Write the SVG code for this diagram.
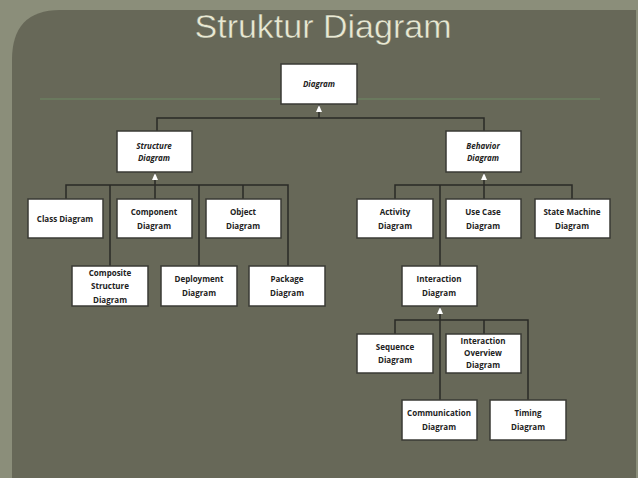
<svg xmlns="http://www.w3.org/2000/svg" width="638" height="478" viewBox="0 0 638 478">
<style>
.b{fill:#fff;stroke:#3a3a34;stroke-width:1.5}
.t{font-family:"Open Sans",sans-serif;font-size:8px;font-weight:bold;fill:#222;text-anchor:middle}
.i{font-style:italic}
#conn path{fill:none;stroke:#2a2a26;stroke-width:1.5}
</style>
<rect width="638" height="478" fill="#8b8e7a"/>
<path d="M60,10 H636 V478 H12 V60 Q12,10 60,10 Z" fill="#676858"/>
<text x="323" y="38" font-family="Liberation Sans,sans-serif" font-size="34" fill="#e8e8d2" text-anchor="middle" stroke="#55574a" stroke-width="0.4">Struktur Diagram</text>
<line x1="40" y1="99" x2="600" y2="99" stroke="#6f8a64" stroke-width="1.2"/>
<g id="conn">
<path d="M319,104 V118 M157,131 V118 H484 V131" />
<path d="M155,172 V185 M66,199 V185 H288 V266 M110,185 V266 M155,185 V199 M199,185 V266 M243,185 V199"/>
<path d="M484,172 V185 M395,199 V185 H572 V199 M440,185 V266 M484,185 V199"/>
<path d="M440,306 V320 M395,334 V320 H528 V400 M440,320 V400 M484,320 V334"/>
</g>
<g fill="#fff"><path d="M316,112 L319,105 L322,112 Z"/><path d="M152,180 L155,173 L158,180 Z"/><path d="M481,180 L484,173 L487,180 Z"/><path d="M437,314 L440,307 L443,314 Z"/></g>
<g id="diagram"><rect class="b" x="281" y="64" width="76" height="40"/><text class="t i" x="319" y="87">Diagram</text></g>
<g id="structure"><rect class="b" x="117" y="131" width="75" height="41"/><text class="t i" x="154" y="149">Structure</text><text class="t i" x="154" y="161">Diagram</text></g>
<g id="behavior"><rect class="b" x="446" y="131" width="75" height="41"/><text class="t i" x="483" y="149">Behavior</text><text class="t i" x="483" y="161">Diagram</text></g>
<g id="class"><rect class="b" x="28" y="199" width="75" height="39"/><text class="t" x="65" y="222">Class Diagram</text></g>
<g id="component"><rect class="b" x="117" y="199" width="75" height="39"/><text class="t" x="154" y="215">Component</text><text class="t" x="154" y="229">Diagram</text></g>
<g id="object"><rect class="b" x="206" y="199" width="75" height="39"/><text class="t" x="243" y="215">Object</text><text class="t" x="243" y="229">Diagram</text></g>
<g id="composite"><rect class="b" x="72" y="266" width="76" height="40"/><text class="t" x="110" y="276">Composite</text><text class="t" x="110" y="289">Structure</text><text class="t" x="110" y="303">Diagram</text></g>
<g id="deployment"><rect class="b" x="161" y="266" width="76" height="40"/><text class="t" x="199" y="282">Deployment</text><text class="t" x="199" y="296">Diagram</text></g>
<g id="package"><rect class="b" x="249" y="266" width="76" height="40"/><text class="t" x="287" y="282">Package</text><text class="t" x="287" y="296">Diagram</text></g>
<g id="activity"><rect class="b" x="357" y="199" width="76" height="39"/><text class="t" x="395" y="215">Activity</text><text class="t" x="395" y="229">Diagram</text></g>
<g id="usecase"><rect class="b" x="446" y="199" width="75" height="39"/><text class="t" x="483" y="215">Use Case</text><text class="t" x="483" y="229">Diagram</text></g>
<g id="statemachine"><rect class="b" x="535" y="199" width="75" height="39"/><text class="t" x="572" y="215">State Machine</text><text class="t" x="572" y="229">Diagram</text></g>
<g id="interaction"><rect class="b" x="402" y="266" width="75" height="40"/><text class="t" x="439" y="282">Interaction</text><text class="t" x="439" y="296">Diagram</text></g>
<g id="sequence"><rect class="b" x="357" y="334" width="76" height="39"/><text class="t" x="395" y="350">Sequence</text><text class="t" x="395" y="363">Diagram</text></g>
<g id="overview"><rect class="b" x="446" y="334" width="75" height="39"/><text class="t" x="483" y="344">Interaction</text><text class="t" x="483" y="356">Overview</text><text class="t" x="483" y="368">Diagram</text></g>
<g id="communication"><rect class="b" x="402" y="400" width="75" height="40"/><text class="t" x="439" y="416">Communication</text><text class="t" x="439" y="430">Diagram</text></g>
<g id="timing"><rect class="b" x="490" y="400" width="76" height="40"/><text class="t" x="528" y="416">Timing</text><text class="t" x="528" y="430">Diagram</text></g>
</svg>
